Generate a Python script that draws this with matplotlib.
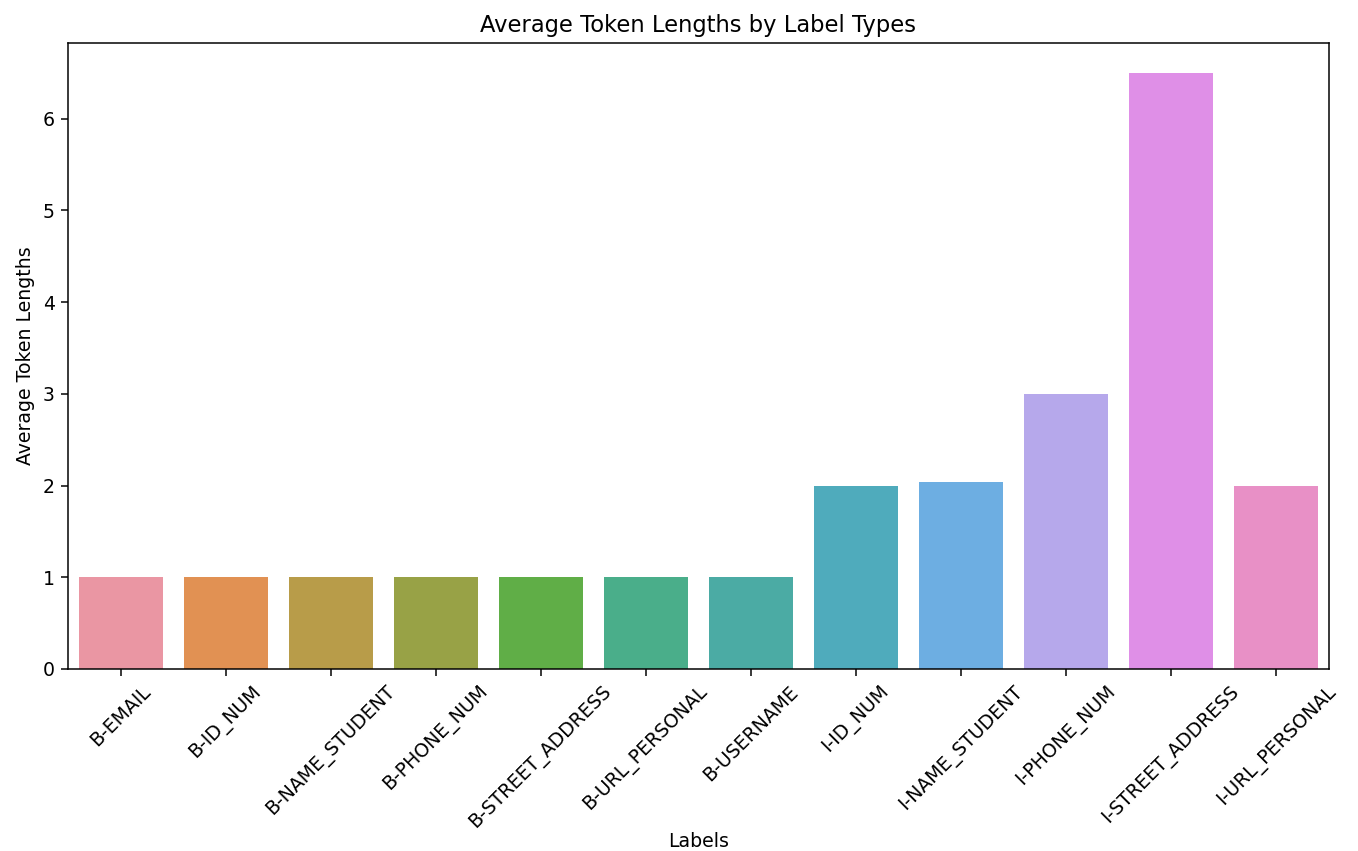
import matplotlib
matplotlib.use("Agg")
import matplotlib.pyplot as plt
import seaborn as sns

labels = ["B-EMAIL", "B-ID_NUM", "B-NAME_STUDENT", "B-PHONE_NUM", "B-STREET_ADDRESS",
          "B-URL_PERSONAL", "B-USERNAME", "I-ID_NUM", "I-NAME_STUDENT", "I-PHONE_NUM",
          "I-STREET_ADDRESS", "I-URL_PERSONAL"]
avg_lengths = [1.0, 1.0, 1.0, 1.0, 1.0, 1.0, 1.0, 2.0, 2.04, 3.0, 6.5, 2.0]

# render at 136 dpi so default font sizes scale like the reference
fig = plt.figure(figsize=(1358 / 136, 851 / 136), dpi=136)
ax = fig.add_axes([68 / 1358, 1 - 669 / 851, (1329 - 68) / 1358, (669 - 43) / 851])

# old seaborn style: husl with l=.7, then desaturated to .75
colors = [sns.desaturate(c, 0.75) for c in sns.husl_palette(len(labels), l=0.7)]
sns.barplot(x=labels, y=avg_lengths, hue=labels, palette=colors, legend=False,
            ax=ax, saturation=1)

ax.set_title("Average Token Lengths by Label Types")
ax.set_xlabel("Labels", labelpad=0)
ax.set_ylabel("Average Token Lengths")
plt.setp(ax.get_xticklabels(), rotation=45)

fig.savefig("out.png", dpi=136)
